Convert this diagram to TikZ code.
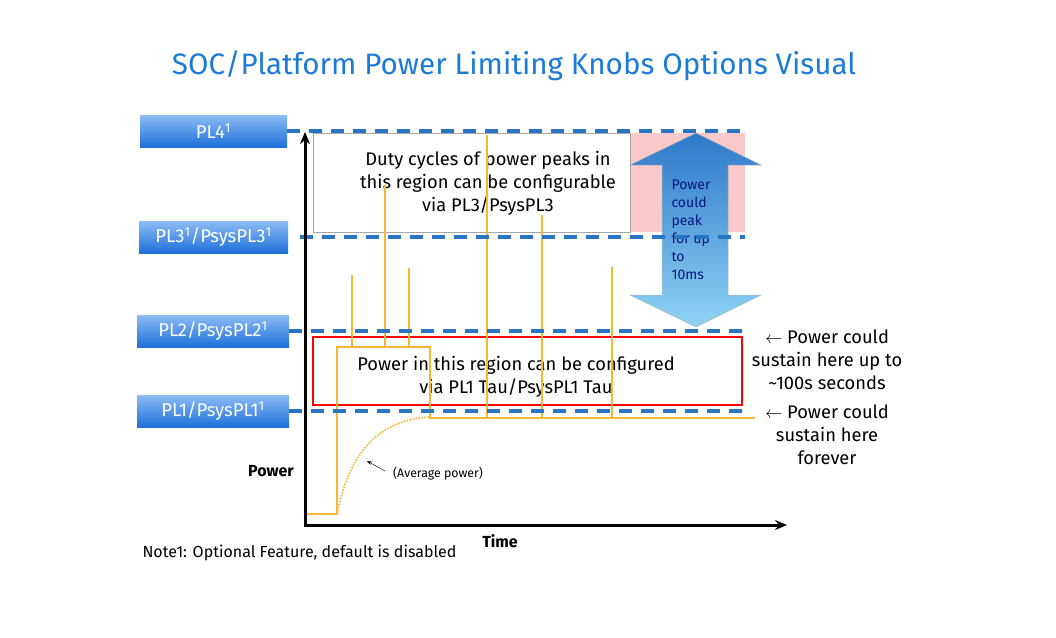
\documentclass[tikz,border=0pt]{standalone}
\usepackage{fontspec}
\setmainfont{Fira Sans}
\usetikzlibrary{shapes.arrows,arrows.meta}
\definecolor{tblue}{HTML}{1B7BD6}
\definecolor{dblue}{HTML}{2A74C4}
\definecolor{yel}{HTML}{F7B731}
\definecolor{pinkc}{HTML}{F9C9CC}
\definecolor{labtop}{HTML}{8CBDF5}
\definecolor{labbot}{HTML}{1E6FD9}
\definecolor{arrtop}{HTML}{2F78C8}
\definecolor{arrbot}{HTML}{8FD3F5}
\begin{document}
\begin{tikzpicture}[x=1pt,y=-1pt,
 lab/.style={draw=none,top color=labtop,bottom color=labbot,text=white,minimum height=32pt,inner sep=0pt,font=\fontsize{18.5}{20}\selectfont},
 lvl/.style={dblue,line width=3.5pt,dash pattern=on 13pt off 9pt},
 sig/.style={yel,line width=2.4pt},
 txt/.style={align=center,font=\fontsize{18.3}{23}\selectfont}]
\useasboundingbox (0,0) rectangle (1056,637);
\node[font=\fontsize{29.6}{36}\selectfont,text=tblue] (title) at (514,66) {SOC/Platform Power Limiting Knobs Options Visual};
% pink and arrow
\fill[pinkc] (630,133) rectangle (745,232);
\draw[gray!70] (313,133) rectangle (630,232);
\node[txt] (duty) at (488,183) {Duty cycles of power peaks in\\this region can be configurable\\via PL3/PsysPL3};
\shade[top color=arrtop,bottom color=arrbot,draw=gray!60,line width=0.5pt]
 (696,133) -- (761,165) -- (728,165) -- (728,295) -- (761,295) -- (696,327) -- (630,295) -- (662,295) -- (662,165) -- (630,165) -- cycle;
\node[align=left,anchor=north west,text=blue!40!black!80!tblue,font=\fontsize{14}{18}\selectfont] (peak) at (668,176) {Power\\could\\peak\\for up\\to\\10ms};
% labels
\node[lab,minimum width=147pt] (pl4) at (213.5,131) {PL4\textsuperscript{1}};
\node[lab,minimum width=149pt] (pl3) at (213.5,237) {PL3\textsuperscript{1}/PsysPL3\textsuperscript{1}};
\node[lab,minimum width=152pt] (pl2) at (213,331) {PL2/PsysPL2\textsuperscript{1}};
\node[lab,minimum width=152pt] (pl1) at (213,411) {PL1/PsysPL1\textsuperscript{1}};
\coordinate (e4) at (745,131); \coordinate (e3) at (745,237);
\coordinate (e2) at (745,331); \coordinate (e1) at (745,411);
% red box
\draw[red,line width=2.4pt] (313,337) rectangle (742,405);
\node[txt] (reg) at (516,377) {Power in this region can be configured\\via PL1 Tau/PsysPL1 Tau};
% signal
\draw[sig] (305,514) -- (337,514) -- (337,347) -- (430,347) -- (430,418) -- (755,418);
\draw[sig] (352,347) -- (352,275);
\draw[sig] (385,347) -- (385,185);
\draw[sig] (409,347) -- (409,268);
\draw[sig] (487,418) -- (487,135);
\draw[sig] (542,418) -- (542,215);
\draw[sig] (612,418) -- (612,267);
\draw[yel,line width=1.8pt,dash pattern=on 1.5pt off 1.5pt] (337,514) .. controls (350,450) and (380,420) .. (430,417);
% dashes
\draw[lvl] (pl4.east) -- (e4);
\draw[lvl] (300,237) -- (e3);
\draw[lvl] (pl2.east) -- (e2);
\draw[lvl] (pl1.east) -- (e1);
% axes
\coordinate (o) at (305,525); \coordinate (ytop) at (305,132); \coordinate (xend) at (787,525);
\draw[line width=3pt,-{Stealth[length=12pt,width=10pt]}] (305,527) -- (ytop);
\draw[line width=3pt,-{Stealth[length=12pt,width=10pt]}] (304,525) -- (xend);
\node[font=\bfseries\fontsize{16}{18}\selectfont] (pw) at (271,471) {Power};
\node[font=\bfseries\fontsize{16}{18}\selectfont] (tm) at (500,541) {Time};
\node[font=\fontsize{12.3}{14}\selectfont] (avg) at (438,474) {(Average power)};
\coordinate (a1) at (385,471); \coordinate (a2) at (367,461);
\draw[-{Stealth[length=5pt]}] (a1) -- (a2);
\node[anchor=west,font=\fontsize{16}{17}\selectfont] (note) at (139,553) {Note1: Optional Feature, default is disabled};
\node[txt] (r1) at (827,360) {$\leftarrow$ Power could\\sustain here up to\\\textasciitilde100s seconds};
\node[txt] (r2) at (827,435) {$\leftarrow$ Power could\\sustain here\\forever};
\end{tikzpicture}
\end{document}
